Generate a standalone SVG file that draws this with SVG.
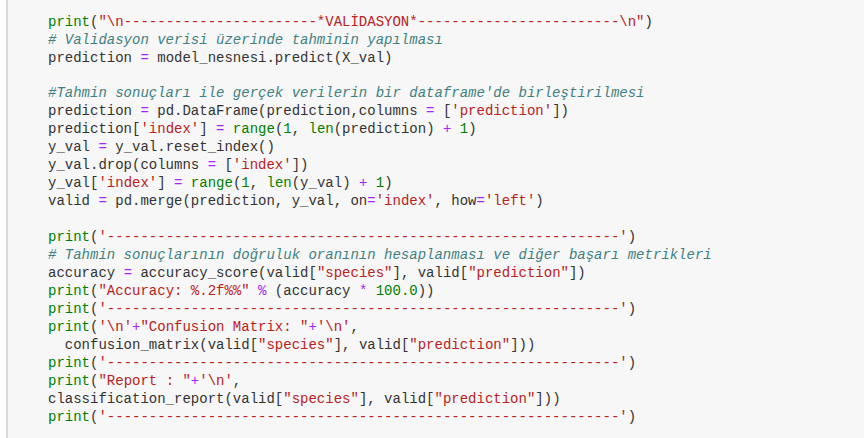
<svg xmlns="http://www.w3.org/2000/svg" width="864" height="438" viewBox="0 0 864 438">
<style>
text{font-family:"Liberation Mono","DejaVu Sans Mono",monospace;font-size:14px;fill:#333;white-space:pre}
.k{fill:#008000}.s{fill:#ba2121}.o{fill:#aa22ff}.c{fill:#408080;font-style:italic}.n{fill:#008000}
</style>
<rect width="864" height="438" fill="#ffffff"/>
<rect x="7" y="0" width="857" height="438" fill="#f7f7f7"/>
<line x1="7" y1="0" x2="7" y2="438" stroke="#cfcfcf" stroke-width="1.5"/>
<g id="code" xml:space="preserve">
<text x="48" y="26"><tspan class="k">print</tspan>(<tspan class="s">"\n-----------------------*VALİDASYON*------------------------\n"</tspan>)</text>
<text x="48" y="44" class="c"># Validasyon verisi üzerinde tahminin yapılması</text>
<text x="48" y="62">prediction <tspan class="o">=</tspan> model_nesnesi.predict(X_val)</text>
<text x="48" y="97" class="c">#Tahmin sonuçları ile gerçek verilerin bir dataframe'de birleştirilmesi</text>
<text x="48" y="115">prediction <tspan class="o">=</tspan> pd.DataFrame(prediction,columns <tspan class="o">=</tspan> [<tspan class="s">'prediction'</tspan>])</text>
<text x="48" y="133">prediction[<tspan class="s">'index'</tspan>] <tspan class="o">=</tspan> <tspan class="k">range</tspan>(<tspan class="n">1</tspan>, <tspan class="k">len</tspan>(prediction) <tspan class="o">+</tspan> <tspan class="n">1</tspan>)</text>
<text x="48" y="151">y_val <tspan class="o">=</tspan> y_val.reset_index()</text>
<text x="48" y="169">y_val.drop(columns <tspan class="o">=</tspan> [<tspan class="s">'index'</tspan>])</text>
<text x="48" y="187">y_val[<tspan class="s">'index'</tspan>] <tspan class="o">=</tspan> <tspan class="k">range</tspan>(<tspan class="n">1</tspan>, <tspan class="k">len</tspan>(y_val) <tspan class="o">+</tspan> <tspan class="n">1</tspan>)</text>
<text x="48" y="205">valid <tspan class="o">=</tspan> pd.merge(prediction, y_val, on<tspan class="o">=</tspan><tspan class="s">'index'</tspan>, how<tspan class="o">=</tspan><tspan class="s">'left'</tspan>)</text>
<text x="48" y="241"><tspan class="k">print</tspan>(<tspan class="s">'-------------------------------------------------------------'</tspan>)</text>
<text x="48" y="259" class="c"># Tahmin sonuçlarının doğruluk oranının hesaplanması ve diğer başarı metrikleri</text>
<text x="48" y="277">accuracy <tspan class="o">=</tspan> accuracy_score(valid[<tspan class="s">"species"</tspan>], valid[<tspan class="s">"prediction"</tspan>])</text>
<text x="48" y="295"><tspan class="k">print</tspan>(<tspan class="s">"Accuracy: %.2f%%"</tspan> <tspan class="o">%</tspan> (accuracy <tspan class="o">*</tspan> <tspan class="n">100.0</tspan>))</text>
<text x="48" y="313"><tspan class="k">print</tspan>(<tspan class="s">'-------------------------------------------------------------'</tspan>)</text>
<text x="48" y="331"><tspan class="k">print</tspan>(<tspan class="s">'\n'</tspan><tspan class="o">+</tspan><tspan class="s">"Confusion Matrix: "</tspan><tspan class="o">+</tspan><tspan class="s">'\n'</tspan>,</text>
<text x="48" y="349">  confusion_matrix(valid[<tspan class="s">"species"</tspan>], valid[<tspan class="s">"prediction"</tspan>]))</text>
<text x="48" y="367"><tspan class="k">print</tspan>(<tspan class="s">'-------------------------------------------------------------'</tspan>)</text>
<text x="48" y="385"><tspan class="k">print</tspan>(<tspan class="s">"Report : "</tspan><tspan class="o">+</tspan><tspan class="s">'\n'</tspan>,</text>
<text x="48" y="403">classification_report(valid[<tspan class="s">"species"</tspan>], valid[<tspan class="s">"prediction"</tspan>]))</text>
<text x="48" y="421"><tspan class="k">print</tspan>(<tspan class="s">'-------------------------------------------------------------'</tspan>)</text>
</g>
</svg>
